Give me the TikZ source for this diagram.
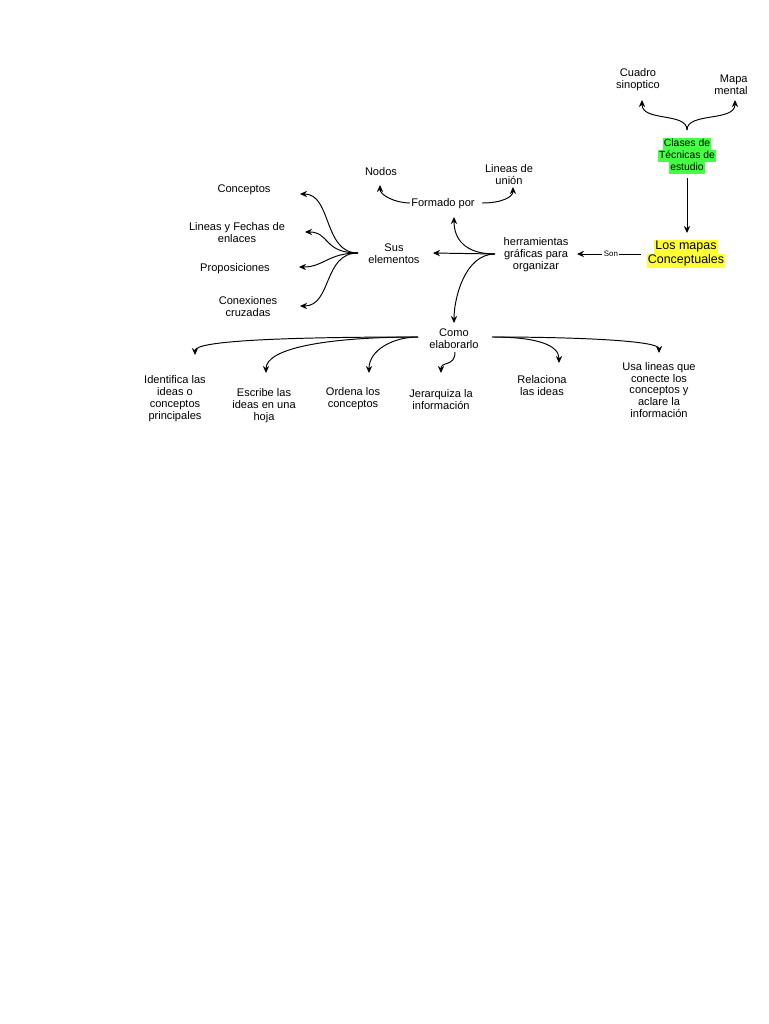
\documentclass[tikz,border=0pt]{standalone}
\usepackage{fontspec}
\setmainfont{Liberation Sans}
\usetikzlibrary{arrows.meta}
\definecolor{hlgreen}{HTML}{44FF44}
\definecolor{hlyellow}{HTML}{FFFF33}
\setlength{\fboxsep}{0pt}
\newcommand{\hlbox}[2]{\colorbox{#1}{\strut\hspace{0.6pt}#2\hspace{0.6pt}}}
\tikzset{
  concept/.style={font=\fontsize{6.3}{6.8}\selectfont,align=center,inner sep=1pt},
  link/.style={line width=0.55pt,-{Stealth[length=4pt,width=3.6pt]}},
}

\begin{document}
\begin{tikzpicture}[x=0.02cm,y=-0.02cm]
  \fill[white] (0,0) rectangle (768,1024);
  \useasboundingbox (0,0) rectangle (768,1024);

  % top right
  \node[concept] (cuadro) at (638,80) {Cuadro\\sinoptico};
  \node[concept,align=right] (mapa) at (731,85) {Mapa\\mental};
  \node[concept,font=\fontsize{5.9}{6.8}\selectfont,inner sep=0pt] (clases) at (687,156)
    {\hlbox{hlgreen}{Clases de}\\\hlbox{hlgreen}{Técnicas de}\\\hlbox{hlgreen}{estudio}};
  \node[concept,font=\fontsize{7.1}{7.7}\selectfont,inner sep=0pt] (mapas) at (686,254)
    {\hlbox{hlyellow}{Los mapas}\\\hlbox{hlyellow}{Conceptuales}};

  % middle
  \node[concept] (herr) at (536,255) {herramientas\\gráficas para\\organizar};
  \node[concept] (formado) at (443,204) {Formado por};
  \node[concept] (nodos) at (381,172) {Nodos};
  \node[concept] (lineasu) at (509,175) {Lineas de\\unión};
  \node[concept] (sus) at (394,254) {Sus\\elementos};
  \node[concept] (conc) at (244,190) {Conceptos};
  \node[concept] (lyf) at (237,233) {Lineas y Fechas de\\enlaces};
  \node[concept] (prop) at (235,269) {Proposiciones};
  \node[concept] (conex) at (248,307) {Conexiones\\cruzadas};

  % bottom row
  \node[concept] (como) at (454,339) {Como\\elaborarlo};
  \node[concept] (ident) at (175,399) {Identifica las\\ideas o\\conceptos\\principales};
  \node[concept] (escr) at (264,406) {Escribe las\\ideas en una\\hoja};
  \node[concept] (orden) at (353,399) {Ordena los\\conceptos};
  \node[concept] (jerar) at (441,400) {Jerarquiza la\\información};
  \node[concept] (relac) at (542,386) {Relaciona\\las ideas};
  \node[concept] (usa) at (659,390) {Usa lineas que\\conecte los\\conceptos y\\aclare la\\información};

  % branch points
  \coordinate (clb) at ([shift={(0,-26)}]clases.center);
  \coordinate (hb) at ([shift={(-41,-1)}]herr.center);
  \coordinate (sb) at ([shift={(-36,-1)}]sus.center);
  \coordinate (cl) at ([shift={(-36,-2)}]como.center);
  \coordinate (cr) at ([shift={(38,-2)}]como.center);

  \draw[link] (clb) .. controls +(0,-18) and +(0,22) .. ([shift={(4,20)}]cuadro.center);
  \draw[link] (clb) .. controls +(0,-18) and +(0,22) .. ([shift={(4,15)}]mapa.center);
  \draw[link] ([shift={(0,22)}]clases.center) -- ([shift={(1,-21)}]mapas.center);
  \draw[link] ([shift={(-45,0)}]mapas.center) -- node[pos=0.47,fill=white,inner sep=0.8pt,font=\fontsize{4.5}{5}\selectfont] (son) {Son} ([shift={(41,-1)}]herr.center);

  \draw[link] (hb) -- ([shift={(39,-1)}]sus.center);
  \draw[link] (hb) .. controls +(-30,0) and +(0,22) .. ([shift={(11,13)}]formado.center);
  \draw[link] (hb) .. controls +(-30,0) and +(0,-25) .. ([shift={(0,-16)}]como.center);
  \draw[link] ([shift={(-33,-1)}]formado.center) .. controls +(-15,0) and +(0,10) .. ([shift={(-1,13)}]nodos.center);
  \draw[link] ([shift={(39,-1)}]formado.center) .. controls +(20,0) and +(0,10) .. ([shift={(4,12)}]lineasu.center);

  \draw[link] (sb) .. controls +(-35,0) and +(32,0) .. ([shift={(56,4)}]conc.center);
  \draw[link] (sb) .. controls +(-35,0) and +(25,0) .. ([shift={(68,-1)}]lyf.center);
  \draw[link] (sb) .. controls +(-30,0) and +(25,0) .. ([shift={(64,-2)}]prop.center);
  \draw[link] (sb) .. controls +(-35,0) and +(32,0) .. ([shift={(52,-1)}]conex.center);

  \draw[link] (cl) .. controls +(-120,0) and +(0,-15) .. ([shift={(20,-44)}]ident.center);
  \draw[link] (cl) .. controls +(-90,0) and +(0,-25) .. ([shift={(2,-33)}]escr.center);
  \draw[link] (cl) .. controls +(-25,0) and +(0,-23) .. ([shift={(16,-26)}]orden.center);
  \draw[link] ([shift={(1,13)}]como.center) .. controls +(0,15) and +(0,-12) .. ([shift={(0,-27)}]jerar.center);
  \draw[link] (cr) .. controls +(45,0) and +(0,-18) .. ([shift={(17,-23)}]relac.center);
  \draw[link] (cr) .. controls +(90,0) and +(0,-12) .. ([shift={(0,-37)}]usa.center);
\end{tikzpicture}
\end{document}
